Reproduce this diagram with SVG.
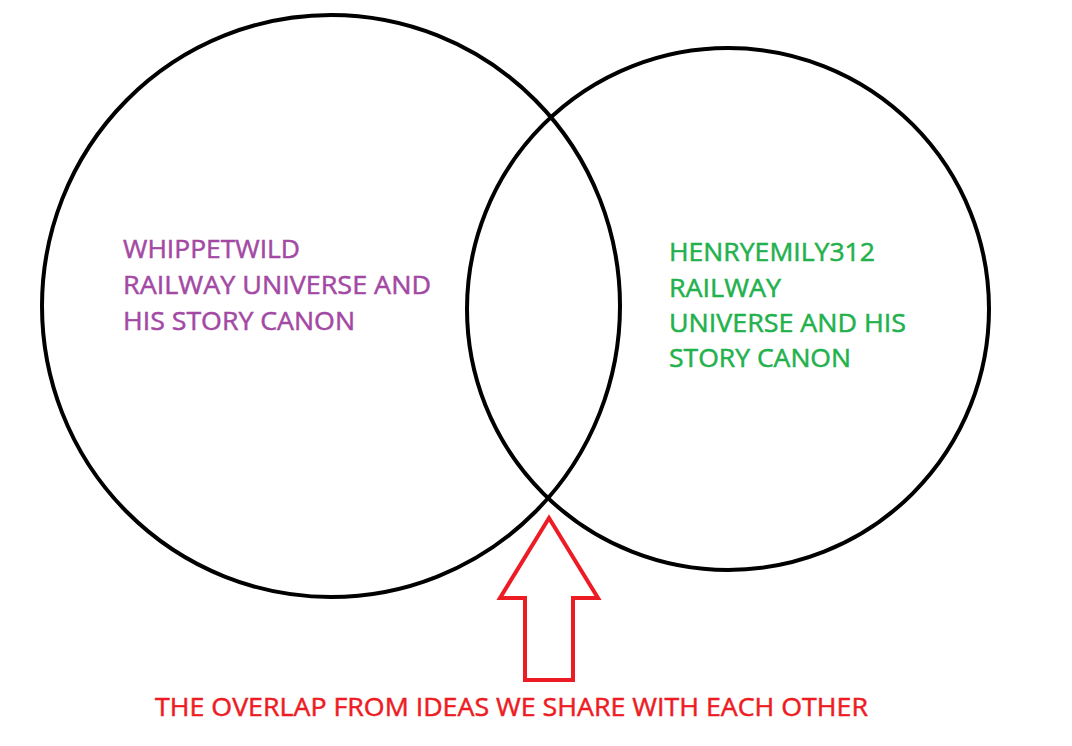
<svg xmlns="http://www.w3.org/2000/svg" width="1072" height="746" viewBox="0 0 1072 746">
<style>
.c{fill:none;stroke:#000;stroke-width:4}
.t{font-family:"Open Sans","Noto Sans","Liberation Sans",sans-serif;font-size:26px;stroke-width:0.5}
.p{fill:#a349a4;stroke:#a349a4}
.g{fill:#22b14c;stroke:#22b14c}
.r{fill:#ed1c24;stroke:#ed1c24}
</style>
<rect width="1072" height="746" fill="#fff"/>
<g id="left">
<ellipse class="c" cx="331" cy="306" rx="289" ry="291"/>
<text class="t p" x="123" y="258" textLength="177" lengthAdjust="spacingAndGlyphs">WHIPPETWILD</text>
<text class="t p" x="123" y="294" textLength="308" lengthAdjust="spacingAndGlyphs">RAILWAY UNIVERSE AND</text>
<text class="t p" x="123" y="330" textLength="232" lengthAdjust="spacingAndGlyphs">HIS STORY CANON</text>
</g>
<g id="right">
<circle class="c" cx="728" cy="309" r="261"/>
<text class="t g" x="669" y="261" textLength="206" lengthAdjust="spacingAndGlyphs">HENRYEMILY312</text>
<text class="t g" x="669" y="297" textLength="112" lengthAdjust="spacingAndGlyphs">RAILWAY</text>
<text class="t g" x="669" y="332" textLength="237" lengthAdjust="spacingAndGlyphs">UNIVERSE AND HIS</text>
<text class="t g" x="669" y="367" textLength="182" lengthAdjust="spacingAndGlyphs">STORY CANON</text>
</g>
<g id="connectors">
<polygon points="549,518 598,598 573,598 573,680 525,680 525,598 500,598" fill="none" stroke="#ed1c24" stroke-width="4" stroke-linejoin="miter"/>
</g>
<g id="caption">
<text class="t r" x="155" y="716" textLength="713" lengthAdjust="spacingAndGlyphs">THE OVERLAP FROM IDEAS WE SHARE WITH EACH OTHER</text>
</g>
</svg>
